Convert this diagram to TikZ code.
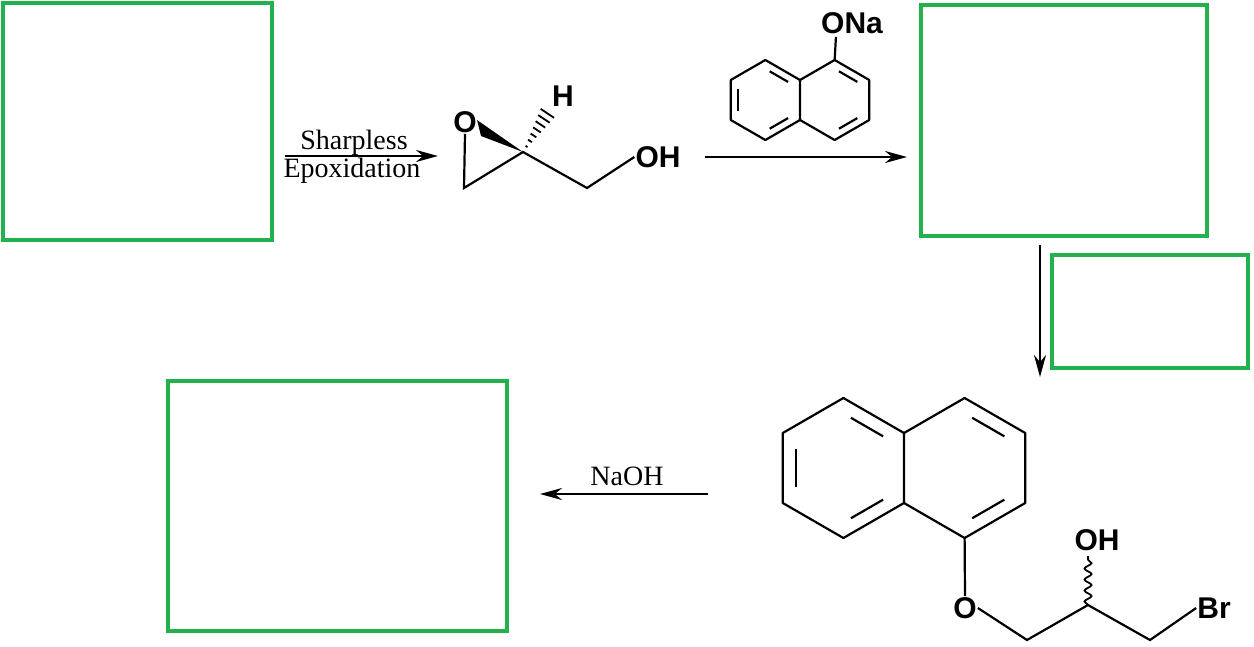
\documentclass[tikz,border=0pt]{standalone}
\usepackage{fontspec}
\setmainfont{Liberation Serif}
\setsansfont{Liberation Sans}
\usetikzlibrary{calc,arrows.meta,decorations.pathmorphing}
\definecolor{boxgreen}{RGB}{34,177,77}
\tikzset{
 box/.style={draw=boxgreen,line width=4pt},
 bond/.style={line width=2.2pt},
 rxn/.style={line width=2.4pt,-{Stealth[length=22pt,width=12pt]}},
 atom/.style={font=\sffamily\bfseries\fontsize{30}{32}\selectfont,inner sep=1pt},
 lab/.style={font=\fontsize{28}{30}\selectfont,inner sep=1pt},
}
\newcommand{\inbond}[3]{\draw[bond] ($($(#1)!.16!(#2)$)!.22!(#3)$) -- ($($(#2)!.16!(#1)$)!.22!(#3)$);}
\newcommand{\naph}[4]{% prefix, x of shared bond, y top, side
 \pgfmathsetmacro{\h}{#4*0.866}
 \coordinate (#1l1) at (#2-\h,#3);
 \coordinate (#1l2) at (#2-2*\h,#3+#4/2);
 \coordinate (#1l3) at (#2-2*\h,#3+1.5*#4);
 \coordinate (#1l4) at (#2-\h,#3+2*#4);
 \coordinate (#1s1) at (#2,#3+#4/2);
 \coordinate (#1s2) at (#2,#3+1.5*#4);
 \coordinate (#1r1) at (#2+\h,#3);
 \coordinate (#1r2) at (#2+2*\h,#3+#4/2);
 \coordinate (#1r3) at (#2+2*\h,#3+1.5*#4);
 \coordinate (#1r4) at (#2+\h,#3+2*#4);
 \coordinate (#1cl) at (#2-\h,#3+#4);
 \coordinate (#1cr) at (#2+\h,#3+#4);
 \draw[bond,line join=round] (#1s1)--(#1l1)--(#1l2)--(#1l3)--(#1l4)--(#1s2)--(#1s1)--(#1r1)--(#1r2)--(#1r3)--(#1r4)--(#1s2);
 \inbond{#1l2}{#1l3}{#1cl}\inbond{#1l1}{#1s1}{#1cl}\inbond{#1l4}{#1s2}{#1cl}
 \inbond{#1r1}{#1r2}{#1cr}\inbond{#1r3}{#1r4}{#1cr}
}
\begin{document}
\begin{tikzpicture}[x=1pt,y=-1pt]
\useasboundingbox (0,0) rectangle (1254,646);
% boxes
\draw[box] (3,3) rectangle (272,240);
\draw[box] (921,5) rectangle (1207,236);
\draw[box] (1052,255) rectangle (1248,368);
\draw[box] (168,381) rectangle (507,631);
% arrow 1
\coordinate (a1s) at (285,156); \coordinate (a1e) at (438,156);
\draw[rxn] (a1s) -- (a1e);
\node[lab] (t1) at (354,143) {Sharpless};
\node[lab] (t2) at (352,171) {Epoxidation};
% epoxide
\node[atom] (O1) at (465,122) {O};
\coordinate (C2) at (523,152);
\coordinate (C3) at (464,188);
\coordinate (C4) at (587,188);
\node[atom] (H1) at (563,96) {H};
\node[atom] (OH1) at (658,157) {OH};
\draw[bond] (O1.south) -- (C3) -- (C2) -- (C4) -- (OH1.west);
\fill (477,120) -- (481,136) -- (C2) -- cycle;
\foreach \t in {0.12,0.24,...,0.95}{
 \draw[line width=1.8pt] ($(C2)!\t!(552,106)+(-\t*8,-\t*5.3)$) -- ($(C2)!\t!(552,106)+(\t*8,\t*5.3)$);}
% arrow 2 and naphtholate
\coordinate (a2s) at (705,157); \coordinate (a2e) at (907,157);
\draw[rxn] (a2s) -- (a2e);
\naph{n}{800}{60}{40}
\node[atom] (ONa) at (852,23) {ONa};
\draw[bond] (nr1) -- ($(ONa.south west)+(16,2)$);
% arrow 3
\coordinate (a3s) at (1040,245); \coordinate (a3e) at (1040,377);
\draw[rxn] (a3s) -- (a3e);
% bottom product
\naph{m}{904}{398}{70}
\node[atom] (O2) at (965,608) {O};
\draw[bond] (mr4) -- (O2.north);
\coordinate (D1) at (1027,640);
\coordinate (D2) at (1088,605);
\coordinate (D3) at (1150,640);
\node[atom] (Br) at (1214,608) {Br};
\node[atom] (OH2) at (1097,540) {OH};
\draw[bond] (O2.east) -- (D1) -- (D2) -- (D3) -- (Br.west);
\draw[line width=1.8pt,decorate,decoration={snake,amplitude=3.5pt,segment length=11pt}] (D2) -- (1088,556);
% arrow 4
\coordinate (a4s) at (708,494); \coordinate (a4e) at (540,494);
\draw[rxn] (a4s) -- (a4e);
\node[lab] (t3) at (627,476) {NaOH};
\end{tikzpicture}
\end{document}
